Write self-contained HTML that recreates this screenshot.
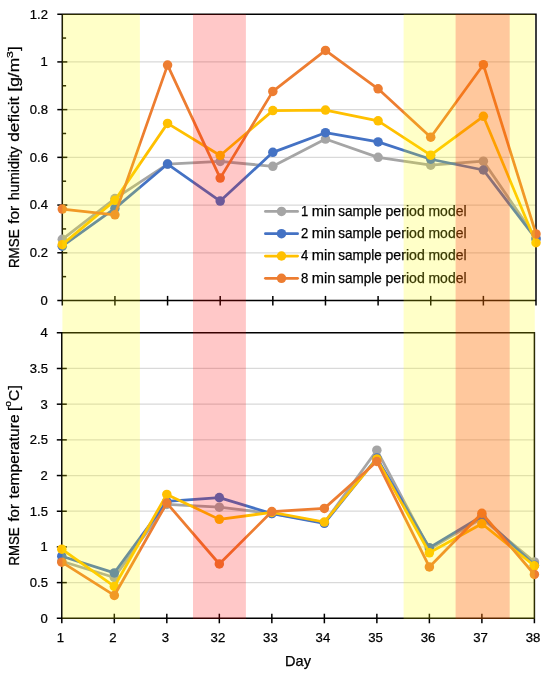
<!DOCTYPE html>
<html lang="en"><head><meta charset="utf-8"><title>RMSE charts</title>
<style>html,body{margin:0;padding:0;background:#fff}svg{display:block}text{stroke:#000;stroke-width:0.25px}</style></head>
<body>
<svg width="550" height="675" viewBox="0 0 550 675" font-family="'Liberation Sans', sans-serif" fill="#000">
<rect width="550" height="675" fill="#fff"/>
<line x1="62.3" x2="536.0" y1="252.78" y2="252.78" stroke="#D9D9D9" stroke-width="1.25"/>
<line x1="62.3" x2="536.0" y1="205.07" y2="205.07" stroke="#D9D9D9" stroke-width="1.25"/>
<line x1="62.3" x2="536.0" y1="157.35" y2="157.35" stroke="#D9D9D9" stroke-width="1.25"/>
<line x1="62.3" x2="536.0" y1="109.63" y2="109.63" stroke="#D9D9D9" stroke-width="1.25"/>
<line x1="62.3" x2="536.0" y1="61.92" y2="61.92" stroke="#D9D9D9" stroke-width="1.25"/>
<path d="M57.3,14.2 H536.0 V305.5 M62.3,14.2 V305.5 M57.3,300.5 H536.0" fill="none" stroke="#000" stroke-width="1.5"/>
<line x1="62.3" x2="66.1" y1="276.64" y2="276.64" stroke="#000" stroke-width="1.5"/>
<text transform="translate(47.9,304.85) scale(0.99,1)" font-size="13.2" text-anchor="end">0</text>
<line x1="57.3" x2="67.3" y1="252.78" y2="252.78" stroke="#000" stroke-width="1.5"/>
<line x1="62.3" x2="66.1" y1="228.92" y2="228.92" stroke="#000" stroke-width="1.5"/>
<text transform="translate(47.9,257.13) scale(0.99,1)" font-size="13.2" text-anchor="end">0.2</text>
<line x1="57.3" x2="67.3" y1="205.07" y2="205.07" stroke="#000" stroke-width="1.5"/>
<line x1="62.3" x2="66.1" y1="181.21" y2="181.21" stroke="#000" stroke-width="1.5"/>
<text transform="translate(47.9,209.42) scale(0.99,1)" font-size="13.2" text-anchor="end">0.4</text>
<line x1="57.3" x2="67.3" y1="157.35" y2="157.35" stroke="#000" stroke-width="1.5"/>
<line x1="62.3" x2="66.1" y1="133.49" y2="133.49" stroke="#000" stroke-width="1.5"/>
<text transform="translate(47.9,161.70) scale(0.99,1)" font-size="13.2" text-anchor="end">0.6</text>
<line x1="57.3" x2="67.3" y1="109.63" y2="109.63" stroke="#000" stroke-width="1.5"/>
<line x1="62.3" x2="66.1" y1="85.77" y2="85.77" stroke="#000" stroke-width="1.5"/>
<text transform="translate(47.9,113.98) scale(0.99,1)" font-size="13.2" text-anchor="end">0.8</text>
<line x1="57.3" x2="67.3" y1="61.92" y2="61.92" stroke="#000" stroke-width="1.5"/>
<line x1="62.3" x2="66.1" y1="38.06" y2="38.06" stroke="#000" stroke-width="1.5"/>
<text transform="translate(47.9,66.27) scale(0.99,1)" font-size="13.2" text-anchor="end">1</text>
<text transform="translate(47.9,18.55) scale(0.99,1)" font-size="13.2" text-anchor="end">1.2</text>
<line x1="114.93" x2="114.93" y1="295.9" y2="305.5" stroke="#000" stroke-width="1.5"/>
<line x1="167.57" x2="167.57" y1="295.9" y2="305.5" stroke="#000" stroke-width="1.5"/>
<line x1="220.20" x2="220.20" y1="295.9" y2="305.5" stroke="#000" stroke-width="1.5"/>
<line x1="272.83" x2="272.83" y1="295.9" y2="305.5" stroke="#000" stroke-width="1.5"/>
<line x1="325.47" x2="325.47" y1="295.9" y2="305.5" stroke="#000" stroke-width="1.5"/>
<line x1="378.10" x2="378.10" y1="295.9" y2="305.5" stroke="#000" stroke-width="1.5"/>
<line x1="430.73" x2="430.73" y1="295.9" y2="305.5" stroke="#000" stroke-width="1.5"/>
<line x1="483.37" x2="483.37" y1="295.9" y2="305.5" stroke="#000" stroke-width="1.5"/>
<polyline points="62.30,239.30 114.93,198.62 167.57,164.03 220.20,161.41 272.83,166.32 325.47,139.07 378.10,157.35 430.73,165.13 483.37,161.17 536.00,237.99" fill="none" stroke="#A5A5A5" stroke-width="2.75" stroke-linejoin="round" stroke-linecap="round"/>
<circle cx="62.30" cy="239.30" r="4.75" fill="#A5A5A5"/>
<circle cx="114.93" cy="198.62" r="4.75" fill="#A5A5A5"/>
<circle cx="167.57" cy="164.03" r="4.75" fill="#A5A5A5"/>
<circle cx="220.20" cy="161.41" r="4.75" fill="#A5A5A5"/>
<circle cx="272.83" cy="166.32" r="4.75" fill="#A5A5A5"/>
<circle cx="325.47" cy="139.07" r="4.75" fill="#A5A5A5"/>
<circle cx="378.10" cy="157.35" r="4.75" fill="#A5A5A5"/>
<circle cx="430.73" cy="165.13" r="4.75" fill="#A5A5A5"/>
<circle cx="483.37" cy="161.17" r="4.75" fill="#A5A5A5"/>
<circle cx="536.00" cy="237.99" r="4.75" fill="#A5A5A5"/>
<polyline points="62.30,246.20 114.93,208.41 167.57,164.03 220.20,201.08 272.83,152.34 325.47,132.68 378.10,141.91 430.73,159.26 483.37,169.99 536.00,238.95" fill="none" stroke="#4472C4" stroke-width="2.75" stroke-linejoin="round" stroke-linecap="round"/>
<circle cx="62.30" cy="246.20" r="4.75" fill="#4472C4"/>
<circle cx="114.93" cy="208.41" r="4.75" fill="#4472C4"/>
<circle cx="167.57" cy="164.03" r="4.75" fill="#4472C4"/>
<circle cx="220.20" cy="201.08" r="4.75" fill="#4472C4"/>
<circle cx="272.83" cy="152.34" r="4.75" fill="#4472C4"/>
<circle cx="325.47" cy="132.68" r="4.75" fill="#4472C4"/>
<circle cx="378.10" cy="141.91" r="4.75" fill="#4472C4"/>
<circle cx="430.73" cy="159.26" r="4.75" fill="#4472C4"/>
<circle cx="483.37" cy="169.99" r="4.75" fill="#4472C4"/>
<circle cx="536.00" cy="238.95" r="4.75" fill="#4472C4"/>
<polyline points="62.30,244.67 114.93,200.37 167.57,123.40 220.20,155.51 272.83,110.59 325.47,110.11 378.10,120.80 430.73,155.20 483.37,116.31 536.00,242.76" fill="none" stroke="#FFC000" stroke-width="2.75" stroke-linejoin="round" stroke-linecap="round"/>
<circle cx="62.30" cy="244.67" r="4.75" fill="#FFC000"/>
<circle cx="114.93" cy="200.37" r="4.75" fill="#FFC000"/>
<circle cx="167.57" cy="123.40" r="4.75" fill="#FFC000"/>
<circle cx="220.20" cy="155.51" r="4.75" fill="#FFC000"/>
<circle cx="272.83" cy="110.59" r="4.75" fill="#FFC000"/>
<circle cx="325.47" cy="110.11" r="4.75" fill="#FFC000"/>
<circle cx="378.10" cy="120.80" r="4.75" fill="#FFC000"/>
<circle cx="430.73" cy="155.20" r="4.75" fill="#FFC000"/>
<circle cx="483.37" cy="116.31" r="4.75" fill="#FFC000"/>
<circle cx="536.00" cy="242.76" r="4.75" fill="#FFC000"/>
<polyline points="62.30,209.12 114.93,214.85 167.57,65.11 220.20,178.11 272.83,91.41 325.47,50.46 378.10,88.81 430.73,137.21 483.37,64.71 536.00,233.94" fill="none" stroke="#ED7D31" stroke-width="2.75" stroke-linejoin="round" stroke-linecap="round"/>
<circle cx="62.30" cy="209.12" r="4.75" fill="#ED7D31"/>
<circle cx="114.93" cy="214.85" r="4.75" fill="#ED7D31"/>
<circle cx="167.57" cy="65.11" r="4.75" fill="#ED7D31"/>
<circle cx="220.20" cy="178.11" r="4.75" fill="#ED7D31"/>
<circle cx="272.83" cy="91.41" r="4.75" fill="#ED7D31"/>
<circle cx="325.47" cy="50.46" r="4.75" fill="#ED7D31"/>
<circle cx="378.10" cy="88.81" r="4.75" fill="#ED7D31"/>
<circle cx="430.73" cy="137.21" r="4.75" fill="#ED7D31"/>
<circle cx="483.37" cy="64.71" r="4.75" fill="#ED7D31"/>
<circle cx="536.00" cy="233.94" r="4.75" fill="#ED7D31"/>
<line x1="61.8" x2="534.4" y1="582.61" y2="582.61" stroke="#D9D9D9" stroke-width="1.25"/>
<line x1="61.8" x2="534.4" y1="546.92" y2="546.92" stroke="#D9D9D9" stroke-width="1.25"/>
<line x1="61.8" x2="534.4" y1="511.24" y2="511.24" stroke="#D9D9D9" stroke-width="1.25"/>
<line x1="61.8" x2="534.4" y1="475.55" y2="475.55" stroke="#D9D9D9" stroke-width="1.25"/>
<line x1="61.8" x2="534.4" y1="439.86" y2="439.86" stroke="#D9D9D9" stroke-width="1.25"/>
<line x1="61.8" x2="534.4" y1="404.18" y2="404.18" stroke="#D9D9D9" stroke-width="1.25"/>
<line x1="61.8" x2="534.4" y1="368.49" y2="368.49" stroke="#D9D9D9" stroke-width="1.25"/>
<path d="M56.8,332.8 H534.4 V623.3 M61.8,332.8 V623.3 M56.8,618.3 H534.4" fill="none" stroke="#000" stroke-width="1.5"/>
<text transform="translate(47.9,622.65) scale(0.99,1)" font-size="13.2" text-anchor="end">0</text>
<line x1="56.8" x2="66.8" y1="582.61" y2="582.61" stroke="#000" stroke-width="1.5"/>
<text transform="translate(47.9,586.96) scale(0.99,1)" font-size="13.2" text-anchor="end">0.5</text>
<line x1="56.8" x2="66.8" y1="546.92" y2="546.92" stroke="#000" stroke-width="1.5"/>
<text transform="translate(47.9,551.27) scale(0.99,1)" font-size="13.2" text-anchor="end">1</text>
<line x1="56.8" x2="66.8" y1="511.24" y2="511.24" stroke="#000" stroke-width="1.5"/>
<text transform="translate(47.9,515.59) scale(0.99,1)" font-size="13.2" text-anchor="end">1.5</text>
<line x1="56.8" x2="66.8" y1="475.55" y2="475.55" stroke="#000" stroke-width="1.5"/>
<text transform="translate(47.9,479.90) scale(0.99,1)" font-size="13.2" text-anchor="end">2</text>
<line x1="56.8" x2="66.8" y1="439.86" y2="439.86" stroke="#000" stroke-width="1.5"/>
<text transform="translate(47.9,444.21) scale(0.99,1)" font-size="13.2" text-anchor="end">2.5</text>
<line x1="56.8" x2="66.8" y1="404.18" y2="404.18" stroke="#000" stroke-width="1.5"/>
<text transform="translate(47.9,408.53) scale(0.99,1)" font-size="13.2" text-anchor="end">3</text>
<line x1="56.8" x2="66.8" y1="368.49" y2="368.49" stroke="#000" stroke-width="1.5"/>
<text transform="translate(47.9,372.84) scale(0.99,1)" font-size="13.2" text-anchor="end">3.5</text>
<text transform="translate(47.9,337.15) scale(0.99,1)" font-size="13.2" text-anchor="end">4</text>
<line x1="114.31" x2="114.31" y1="613.6999999999999" y2="623.3" stroke="#000" stroke-width="1.5"/>
<line x1="166.82" x2="166.82" y1="613.6999999999999" y2="623.3" stroke="#000" stroke-width="1.5"/>
<line x1="219.33" x2="219.33" y1="613.6999999999999" y2="623.3" stroke="#000" stroke-width="1.5"/>
<line x1="271.84" x2="271.84" y1="613.6999999999999" y2="623.3" stroke="#000" stroke-width="1.5"/>
<line x1="324.36" x2="324.36" y1="613.6999999999999" y2="623.3" stroke="#000" stroke-width="1.5"/>
<line x1="376.87" x2="376.87" y1="613.6999999999999" y2="623.3" stroke="#000" stroke-width="1.5"/>
<line x1="429.38" x2="429.38" y1="613.6999999999999" y2="623.3" stroke="#000" stroke-width="1.5"/>
<line x1="481.89" x2="481.89" y1="613.6999999999999" y2="623.3" stroke="#000" stroke-width="1.5"/>
<polyline points="61.80,561.20 114.31,577.47 166.82,504.39 219.33,507.17 271.84,513.38 324.36,522.66 376.87,450.21 429.38,549.07 481.89,518.38 534.40,561.91" fill="none" stroke="#A5A5A5" stroke-width="2.75" stroke-linejoin="round" stroke-linecap="round"/>
<circle cx="61.80" cy="561.20" r="4.75" fill="#A5A5A5"/>
<circle cx="114.31" cy="577.47" r="4.75" fill="#A5A5A5"/>
<circle cx="166.82" cy="504.39" r="4.75" fill="#A5A5A5"/>
<circle cx="219.33" cy="507.17" r="4.75" fill="#A5A5A5"/>
<circle cx="271.84" cy="513.38" r="4.75" fill="#A5A5A5"/>
<circle cx="324.36" cy="522.66" r="4.75" fill="#A5A5A5"/>
<circle cx="376.87" cy="450.21" r="4.75" fill="#A5A5A5"/>
<circle cx="429.38" cy="549.07" r="4.75" fill="#A5A5A5"/>
<circle cx="481.89" cy="518.38" r="4.75" fill="#A5A5A5"/>
<circle cx="534.40" cy="561.91" r="4.75" fill="#A5A5A5"/>
<polyline points="61.80,556.20 114.31,572.91 166.82,501.39 219.33,497.60 271.84,513.59 324.36,523.37 376.87,458.06 429.38,547.64 481.89,516.23 534.40,565.13" fill="none" stroke="#4472C4" stroke-width="2.75" stroke-linejoin="round" stroke-linecap="round"/>
<circle cx="61.80" cy="556.20" r="4.75" fill="#4472C4"/>
<circle cx="114.31" cy="572.91" r="4.75" fill="#4472C4"/>
<circle cx="166.82" cy="501.39" r="4.75" fill="#4472C4"/>
<circle cx="219.33" cy="497.60" r="4.75" fill="#4472C4"/>
<circle cx="271.84" cy="513.59" r="4.75" fill="#4472C4"/>
<circle cx="324.36" cy="523.37" r="4.75" fill="#4472C4"/>
<circle cx="376.87" cy="458.06" r="4.75" fill="#4472C4"/>
<circle cx="429.38" cy="547.64" r="4.75" fill="#4472C4"/>
<circle cx="481.89" cy="516.23" r="4.75" fill="#4472C4"/>
<circle cx="534.40" cy="565.13" r="4.75" fill="#4472C4"/>
<polyline points="61.80,549.14 114.31,586.47 166.82,494.39 219.33,519.37 271.84,512.38 324.36,522.02 376.87,458.92 429.38,552.78 481.89,523.80 534.40,565.77" fill="none" stroke="#FFC000" stroke-width="2.75" stroke-linejoin="round" stroke-linecap="round"/>
<circle cx="61.80" cy="549.14" r="4.75" fill="#FFC000"/>
<circle cx="114.31" cy="586.47" r="4.75" fill="#FFC000"/>
<circle cx="166.82" cy="494.39" r="4.75" fill="#FFC000"/>
<circle cx="219.33" cy="519.37" r="4.75" fill="#FFC000"/>
<circle cx="271.84" cy="512.38" r="4.75" fill="#FFC000"/>
<circle cx="324.36" cy="522.02" r="4.75" fill="#FFC000"/>
<circle cx="376.87" cy="458.92" r="4.75" fill="#FFC000"/>
<circle cx="429.38" cy="552.78" r="4.75" fill="#FFC000"/>
<circle cx="481.89" cy="523.80" r="4.75" fill="#FFC000"/>
<circle cx="534.40" cy="565.77" r="4.75" fill="#FFC000"/>
<polyline points="61.80,562.20 114.31,595.46 166.82,503.03 219.33,563.98 271.84,511.59 324.36,508.38 376.87,461.49 429.38,566.98 481.89,513.24 534.40,574.48" fill="none" stroke="#ED7D31" stroke-width="2.75" stroke-linejoin="round" stroke-linecap="round"/>
<circle cx="61.80" cy="562.20" r="4.75" fill="#ED7D31"/>
<circle cx="114.31" cy="595.46" r="4.75" fill="#ED7D31"/>
<circle cx="166.82" cy="503.03" r="4.75" fill="#ED7D31"/>
<circle cx="219.33" cy="563.98" r="4.75" fill="#ED7D31"/>
<circle cx="271.84" cy="511.59" r="4.75" fill="#ED7D31"/>
<circle cx="324.36" cy="508.38" r="4.75" fill="#ED7D31"/>
<circle cx="376.87" cy="461.49" r="4.75" fill="#ED7D31"/>
<circle cx="429.38" cy="566.98" r="4.75" fill="#ED7D31"/>
<circle cx="481.89" cy="513.24" r="4.75" fill="#ED7D31"/>
<circle cx="534.40" cy="574.48" r="4.75" fill="#ED7D31"/>
<line x1="265.4" x2="297.6" y1="211.4" y2="211.4" stroke="#A5A5A5" stroke-width="2.75" stroke-linecap="round"/>
<circle cx="281.5" cy="211.4" r="4.75" fill="#A5A5A5"/>
<text x="301.1" y="215.70000000000002" font-size="13.8" textLength="7.3" lengthAdjust="spacingAndGlyphs">1</text>
<text x="311.8" y="215.70000000000002" font-size="13.8" textLength="23.6" lengthAdjust="spacingAndGlyphs">min</text>
<text x="338.3" y="215.70000000000002" font-size="13.8" textLength="43.4" lengthAdjust="spacingAndGlyphs">sample</text>
<text x="385.5" y="215.70000000000002" font-size="13.8" textLength="39.3" lengthAdjust="spacingAndGlyphs">period</text>
<text x="428.5" y="215.70000000000002" font-size="13.8" textLength="38.0" lengthAdjust="spacingAndGlyphs">model</text>
<line x1="265.4" x2="297.6" y1="233.7" y2="233.7" stroke="#4472C4" stroke-width="2.75" stroke-linecap="round"/>
<circle cx="281.5" cy="233.7" r="4.75" fill="#4472C4"/>
<text x="301.1" y="238.0" font-size="13.8" textLength="7.3" lengthAdjust="spacingAndGlyphs">2</text>
<text x="311.8" y="238.0" font-size="13.8" textLength="23.6" lengthAdjust="spacingAndGlyphs">min</text>
<text x="338.3" y="238.0" font-size="13.8" textLength="43.4" lengthAdjust="spacingAndGlyphs">sample</text>
<text x="385.5" y="238.0" font-size="13.8" textLength="39.3" lengthAdjust="spacingAndGlyphs">period</text>
<text x="428.5" y="238.0" font-size="13.8" textLength="38.0" lengthAdjust="spacingAndGlyphs">model</text>
<line x1="265.4" x2="297.6" y1="256.0" y2="256.0" stroke="#FFC000" stroke-width="2.75" stroke-linecap="round"/>
<circle cx="281.5" cy="256.0" r="4.75" fill="#FFC000"/>
<text x="301.1" y="260.3" font-size="13.8" textLength="7.3" lengthAdjust="spacingAndGlyphs">4</text>
<text x="311.8" y="260.3" font-size="13.8" textLength="23.6" lengthAdjust="spacingAndGlyphs">min</text>
<text x="338.3" y="260.3" font-size="13.8" textLength="43.4" lengthAdjust="spacingAndGlyphs">sample</text>
<text x="385.5" y="260.3" font-size="13.8" textLength="39.3" lengthAdjust="spacingAndGlyphs">period</text>
<text x="428.5" y="260.3" font-size="13.8" textLength="38.0" lengthAdjust="spacingAndGlyphs">model</text>
<line x1="265.4" x2="297.6" y1="278.3" y2="278.3" stroke="#ED7D31" stroke-width="2.75" stroke-linecap="round"/>
<circle cx="281.5" cy="278.3" r="4.75" fill="#ED7D31"/>
<text x="301.1" y="282.6" font-size="13.8" textLength="7.3" lengthAdjust="spacingAndGlyphs">8</text>
<text x="311.8" y="282.6" font-size="13.8" textLength="23.6" lengthAdjust="spacingAndGlyphs">min</text>
<text x="338.3" y="282.6" font-size="13.8" textLength="43.4" lengthAdjust="spacingAndGlyphs">sample</text>
<text x="385.5" y="282.6" font-size="13.8" textLength="39.3" lengthAdjust="spacingAndGlyphs">period</text>
<text x="428.5" y="282.6" font-size="13.8" textLength="38.0" lengthAdjust="spacingAndGlyphs">model</text>
<rect x="62.4" y="14.2" width="77.5" height="604.6999999999999" fill="rgb(255,255,0)" fill-opacity="0.215"/>
<rect x="403.6" y="14.2" width="131.19999999999993" height="604.6999999999999" fill="rgb(255,255,0)" fill-opacity="0.215"/>
<rect x="193.0" y="14.2" width="52.900000000000006" height="604.6999999999999" fill="rgb(255,0,0)" fill-opacity="0.215"/>
<rect x="455.6" y="14.2" width="54.099999999999966" height="604.6999999999999" fill="rgb(255,0,0)" fill-opacity="0.215"/>
<text x="60.40" y="641.9" font-size="13.2" text-anchor="middle">1</text>
<text x="112.91" y="641.9" font-size="13.2" text-anchor="middle">2</text>
<text x="165.42" y="641.9" font-size="13.2" text-anchor="middle">3</text>
<text x="217.93" y="641.9" font-size="13.2" text-anchor="middle">32</text>
<text x="270.44" y="641.9" font-size="13.2" text-anchor="middle">33</text>
<text x="322.96" y="641.9" font-size="13.2" text-anchor="middle">34</text>
<text x="375.47" y="641.9" font-size="13.2" text-anchor="middle">35</text>
<text x="427.98" y="641.9" font-size="13.2" text-anchor="middle">36</text>
<text x="480.49" y="641.9" font-size="13.2" text-anchor="middle">37</text>
<text x="533.00" y="641.9" font-size="13.2" text-anchor="middle">38</text>
<text x="298" y="666.4" font-size="14.5" text-anchor="middle">Day</text>
<text transform="translate(19.1,268.10) rotate(-90)" font-size="13.9" textLength="38.75" lengthAdjust="spacingAndGlyphs">RMSE</text>
<text transform="translate(19.1,223.80) rotate(-90)" font-size="13.9" textLength="18.05" lengthAdjust="spacingAndGlyphs">for</text>
<text transform="translate(19.1,200.31) rotate(-90)" font-size="13.9" textLength="53.72" lengthAdjust="spacingAndGlyphs">humidity</text>
<text transform="translate(19.1,141.85) rotate(-90)" font-size="13.9" textLength="45.17" lengthAdjust="spacingAndGlyphs">deficit</text>
<text transform="translate(19.1,91.60) rotate(-90)" font-size="13.9" textLength="45.33" lengthAdjust="spacingAndGlyphs">[g/m<tspan font-size="9.8" dy="-6.1">3</tspan><tspan dy="6.1">]</tspan></text>
<text transform="translate(19.1,565.60) rotate(-90)" font-size="13.9" textLength="38.26" lengthAdjust="spacingAndGlyphs">RMSE</text>
<text transform="translate(19.1,521.55) rotate(-90)" font-size="13.9" textLength="17.46" lengthAdjust="spacingAndGlyphs">for</text>
<text transform="translate(19.1,498.41) rotate(-90)" font-size="13.9" textLength="84.01" lengthAdjust="spacingAndGlyphs">temperature</text>
<text transform="translate(19.1,410.99) rotate(-90)" font-size="13.9" textLength="25.75" lengthAdjust="spacingAndGlyphs">[<tspan font-size="9.2" dy="-8.1">o</tspan><tspan dy="8.1">C]</tspan></text>
</svg>
</body></html>
